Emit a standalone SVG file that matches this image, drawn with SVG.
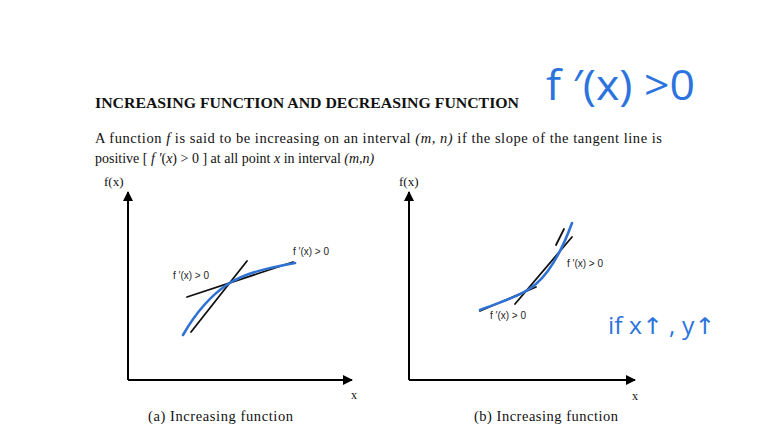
<svg xmlns="http://www.w3.org/2000/svg" width="784" height="441" viewBox="0 0 784 441">
<defs>
<style>
.serif{font-family:"Liberation Serif","Times New Roman",serif;fill:#111}
.lbl{font-family:"Liberation Sans",Arial,sans-serif;font-size:10px;fill:#222}
.axis{stroke:#000;stroke-width:2;fill:none}
.tan{stroke:#111;stroke-width:1.8;fill:none;stroke-linecap:round}
.curve{stroke:#2f72d4;stroke-width:2.6;fill:none;stroke-linecap:round;stroke-linejoin:round}
.hand{font-family:"Open Sans","DejaVu Sans",sans-serif;fill:#2b74de}
</style>
<marker id="ah" viewBox="0 0 10 10" refX="9" refY="5" markerWidth="5" markerHeight="5" orient="auto-start-reverse">
<path d="M0,0 L10,5 L0,10 z" fill="#000"/>
</marker>
</defs>
<rect width="784" height="441" fill="#fff"/>
<g id="title">
<text class="serif" x="95" y="108" font-size="15" font-weight="bold" textLength="424" lengthAdjust="spacingAndGlyphs">INCREASING FUNCTION AND DECREASING FUNCTION</text>
</g>
<g id="paragraph">
<text class="serif" x="95" y="143" font-size="14.5" textLength="567" lengthAdjust="spacing">A function <tspan font-style="italic">f</tspan> is said to be increasing on an interval <tspan font-style="italic">(m, n)</tspan> if the slope of the tangent line is</text>
<text class="serif" x="95" y="163" font-size="14">positive [ <tspan font-style="italic">f ′</tspan>(<tspan font-style="italic">x</tspan>) &gt; 0 ] at all point <tspan font-style="italic">x</tspan> in interval <tspan font-style="italic">(m,n)</tspan></text>
</g>
<g id="graph-a">
<path class="axis" d="M128,380 V192" marker-end="url(#ah)"/>
<path class="axis" d="M128,380 H352" marker-end="url(#ah)"/>
<text class="serif" x="104" y="186" font-size="13">f(x)</text>
<text class="serif" x="351" y="399" font-size="12">x</text>
<line class="tan" x1="187" y1="297" x2="293" y2="262"/>
<line class="tan" x1="191" y1="332" x2="247" y2="261"/>
<path class="curve" d="M183,335 C195,314 210,296 228,284 C248,272 268,268 295,263"/>
<text class="lbl" x="173" y="279">f ′(x) &gt; 0</text>
<text class="lbl" x="293" y="255">f ′(x) &gt; 0</text>
<text class="serif" x="148" y="421" font-size="14.5" textLength="145" lengthAdjust="spacing">(a)  Increasing function</text>
</g>
<g id="graph-b">
<path class="axis" d="M409,380 V192" marker-end="url(#ah)"/>
<path class="axis" d="M409,380 H635" marker-end="url(#ah)"/>
<text class="serif" x="399" y="186" font-size="13">f(x)</text>
<text class="serif" x="632" y="400" font-size="12">x</text>
<line class="tan" x1="480" y1="311" x2="536" y2="287"/>
<line class="tan" x1="515" y1="304" x2="572" y2="237"/>
<line class="tan" x1="556" y1="245" x2="564" y2="229"/>
<path class="curve" d="M480,310 C500,302 522,296 536,284 C552,270 564,245 572,223"/>
<text class="lbl" x="567" y="267">f ′(x) &gt; 0</text>
<text class="lbl" x="490" y="319">f ′(x) &gt; 0</text>
<text class="serif" x="474" y="421" font-size="14.5" textLength="144" lengthAdjust="spacing">(b) Increasing function</text>
</g>
<g id="notes">
<text class="hand" x="546" y="100" font-size="42" textLength="149" lengthAdjust="spacingAndGlyphs">f ′(x) &gt;0</text>
<text class="hand" x="608" y="334" font-size="23" textLength="107" lengthAdjust="spacingAndGlyphs">if x↑ , y↑</text>
</g>
</svg>
